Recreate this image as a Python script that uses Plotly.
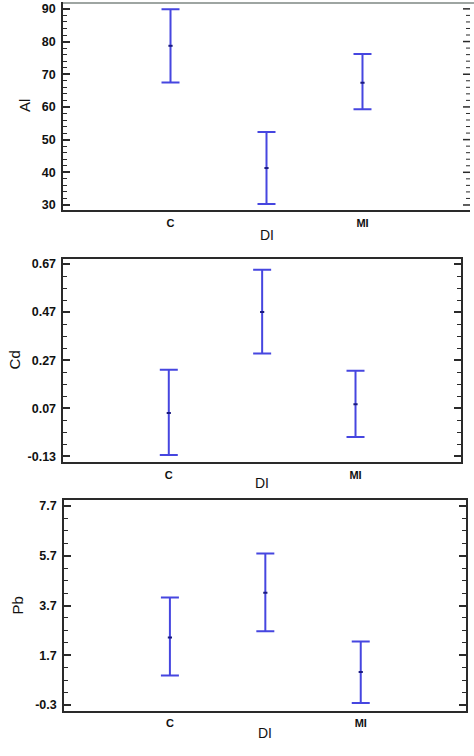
import numpy as np
import plotly.graph_objects as go

# ====================== DATA ======================
groups = ["C", "DI", "MI"]
shown_ticks = ["C", "MI"]

al_mean = [78.7, 41.3, 67.4]
al_upper = [89.9, 52.3, 76.2]
al_lower = [67.5, 30.3, 59.3]
al_ticks = [30, 40, 50, 60, 70, 80, 90]
al_labels = ["30", "40", "50", "60", "70", "80", "90"]

cd_mean = [0.050, 0.470, 0.087]
cd_upper = [0.230, 0.646, 0.226]
cd_lower = [-0.124, 0.298, -0.050]
cd_ticks = [-0.13, 0.07, 0.27, 0.47, 0.67]
cd_labels = ["-0.13", "0.07", "0.27", "0.47", "0.67"]

pb_mean = [2.41, 4.21, 1.03]
pb_upper = [4.02, 5.79, 2.25]
pb_lower = [0.89, 2.66, -0.22]
pb_ticks = [-0.3, 1.7, 3.7, 5.7, 7.7]
pb_labels = ["-0.3", "1.7", "3.7", "5.7", "7.7"]

panels = [
    ("Al", al_mean, al_upper, al_lower, al_ticks, al_labels),
    ("Cd", cd_mean, cd_upper, cd_lower, cd_ticks, cd_labels),
    ("Pb", pb_mean, pb_upper, pb_lower, pb_ticks, pb_labels),
]

# ====================== STYLE ======================
W, H = 474, 756
BAR_COLOR = "#4646e0"
DOT_COLOR = "#1a1a80"
AXIS_COLOR = "#2a2a2a"
FONT = "Liberation Sans, Arial, sans-serif"
TICKFONT = dict(size=12.5, family=FONT, color="#111", weight="bold")

# pixel boxes: (left, right, top, bottom)
boxes = [(63, 470, 0, 209), (63.3, 461, 258.3, 462.3), (64, 465.7, 501, 712.3)]
yranges = [[28.5, 92.1], [-0.153, 0.691], [-0.524, 7.93]]
minor_t0 = [30, -0.13, -0.3]
minor_dt = [2, 0.05, 0.5]
xranges = [[-1.12, 3.12], [-1.13, 3.13], [-1.11, 3.10]]
ytitle_x = [25, 14, 17]
xtitle_y = [234, 484, 735]

fig = go.Figure()
layout = dict(
    width=W, height=H,
    margin=dict(l=0, r=0, t=0, b=0),
    paper_bgcolor="white", plot_bgcolor="white",
    showlegend=False,
    font=dict(family=FONT, color="#111"),
)
annotations = []
shapes = []


def err_bars(mean, upper, lower):
    return dict(type="data", symmetric=False,
                array=[u - m for u, m in zip(upper, mean)],
                arrayminus=[m - lo for m, lo in zip(mean, lower)],
                color=BAR_COLOR, thickness=2, width=9)


for i, (name, mean, upper, lower, tvals, ttext) in enumerate(panels):
    n = "" if i == 0 else str(i + 1)
    l, r, t, b = boxes[i]
    fig.add_trace(go.Scatter(
        x=groups, y=mean, mode="markers",
        xaxis="x" + n, yaxis="y" + n,
        marker=dict(symbol="line-ew", size=3, line=dict(color=DOT_COLOR, width=2)),
        error_y=err_bars(mean, upper, lower),
        name=name,
    ))
    box_mirror = i != 0
    layout["xaxis" + n] = dict(
        domain=[l / W, r / W], anchor="y" + n,
        type="category", categoryorder="array", categoryarray=groups,
        range=xranges[i], tickmode="array", tickvals=shown_ticks,
        ticks="", showgrid=False, zeroline=False,
        showline=True, linecolor=AXIS_COLOR, linewidth=1.5,
        mirror=box_mirror,
        tickfont=dict(size=11, family=FONT, color="#111", weight="bold"),
        ticklabelstandoff=2,
    )
    layout["yaxis" + n] = dict(
        domain=[1 - b / H, 1 - t / H], anchor="x" + n,
        range=yranges[i], tickmode="array", tickvals=tvals, ticktext=ttext,
        ticks="inside", ticklen=7, tickwidth=1.5, tickcolor=AXIS_COLOR,
        minor=dict(tick0=minor_t0[i], dtick=minor_dt[i], ticks="inside", ticklen=4,
                   tickwidth=1, tickcolor=AXIS_COLOR),
        showgrid=False, zeroline=False,
        showline=True, linecolor=AXIS_COLOR, linewidth=1.5,
        mirror="ticks" if box_mirror else False,
        tickfont=TICKFONT,
        ticklabelstandoff=3,
    )
    annotations.append(dict(
        text=name, textangle=-90, xref="paper", yref="paper",
        x=ytitle_x[i] / W, y=1 - (t + b) / 2 / H, xanchor="center", yanchor="middle",
        showarrow=False, font=dict(size=15, family=FONT, color="#111"),
    ))
    annotations.append(dict(
        text="DI", xref="paper", yref="paper",
        x=(l + r) / 2 / W, y=1 - xtitle_y[i] / H, xanchor="center", yanchor="middle",
        showarrow=False, font=dict(size=14, family=FONT, color="#111"),
    ))

# first panel: ticks on the right edge but no frame line there
l, r, t, b = boxes[0]
plot_w = r - l
for v in np.arange(minor_t0[0], yranges[0][1], minor_dt[0]):
    is_major = round(v) in al_ticks
    tick_len = 7 if is_major else 4
    shapes.append(dict(type="line", xref="x domain", yref="y",
                       x0=1 - tick_len / plot_w, x1=1, y0=v, y1=v,
                       line=dict(color=AXIS_COLOR, width=1.5 if is_major else 1)))

# grey strip along the top edge of the first panel
shapes.append(dict(type="rect", xref="paper", yref="paper",
                   x0=63 / W, x1=1, y0=1 - 2 / H, y1=1,
                   fillcolor="#9ea5a2", line=dict(width=0), layer="above"))

layout["annotations"] = annotations
layout["shapes"] = shapes
fig.update_layout(**layout)

# drop the default page margin so the figure fills the window exactly
fig.write_html("out.html", config={"displayModeBar": False},
               post_script="document.body.style.margin = '0';")
